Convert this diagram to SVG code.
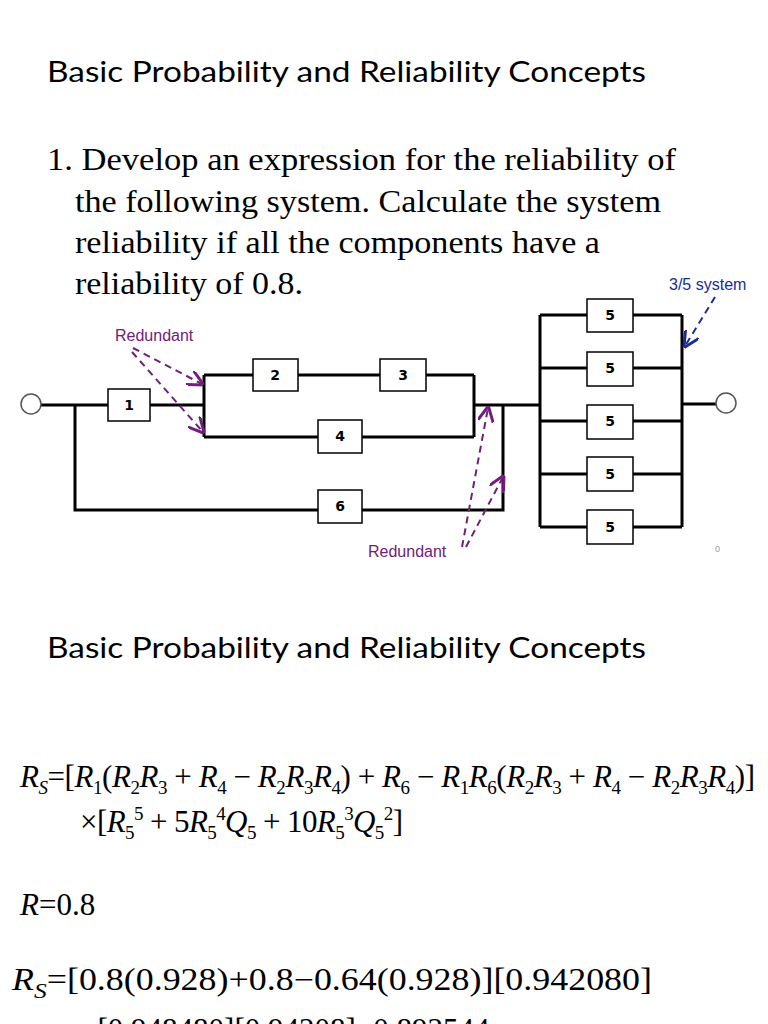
<svg xmlns="http://www.w3.org/2000/svg" width="768" height="1024" viewBox="0 0 768 1024">
<style>
.t{font-family:Lato,"Open Sans",sans-serif;font-size:29px;fill:#000}
.q{font-family:"Liberation Serif",serif;font-size:32px;fill:#000}
.e{font-family:"Liberation Serif",serif;font-size:31px;fill:#000}
.w{stroke:#000;stroke-width:3;fill:none}
.b{fill:#fff;stroke:#000;stroke-width:1.5}
.n{font-family:"DejaVu Sans",sans-serif;font-weight:bold;font-size:14px;text-anchor:middle}
.lbl{font-family:"Liberation Sans",sans-serif;font-size:16px}
.pd{stroke:#70207a;stroke-width:2;stroke-dasharray:7,5;fill:none;marker-end:url(#ap)}
.bd{stroke:#1a2a9a;stroke-width:2;stroke-dasharray:7,5;fill:none;marker-end:url(#ab)}
.s{font-size:19px}
</style>
<defs>
<marker id="ap" markerWidth="8" markerHeight="8" refX="7" refY="4" orient="auto"><path d="M0,0 L8,4 L0,8" fill="none" stroke="#70207a" stroke-width="1.5"/></marker>
<marker id="ab" markerWidth="8" markerHeight="8" refX="7" refY="4" orient="auto"><path d="M0,0 L8,4 L0,8" fill="none" stroke="#1a2a9a" stroke-width="1.5"/></marker>
</defs>
<rect width="768" height="1024" fill="#fff"/>
<text class="t" x="47" y="82" textLength="599" lengthAdjust="spacingAndGlyphs">Basic Probability and Reliability Concepts</text>
<text class="q" x="47" y="170" textLength="629" lengthAdjust="spacingAndGlyphs">1. Develop  an expression for the reliability of</text>
<text class="q" x="75" y="212" textLength="586" lengthAdjust="spacingAndGlyphs">the following system. Calculate the system</text>
<text class="q" x="75" y="253" textLength="525" lengthAdjust="spacingAndGlyphs">reliability if all the components have a</text>
<text class="q" x="75" y="294" textLength="228" lengthAdjust="spacingAndGlyphs">reliability of 0.8.</text>
<g id="connectors">
<path class="w" d="M41,405 H108 M150,405 H204 M204,375 V437 M204,375 H253 M298,375 H380 M426,375 H474 M204,437 H318 M362,437 H474 M474,375 V437 M474,405 H540"/>
<path class="w" d="M75,405 V510 H318 M362,510 H503 V405"/>
<path class="w" d="M540,315 V527 M682,315 V527 M540,315 H587 M633,315 H682 M540,368 H587 M633,368 H682 M540,421 H587 M633,421 H682 M540,474 H587 M633,474 H682 M540,527 H587 M633,527 H682 M682,404 H716"/>
<path class="pd" d="M133,348 L202,384"/>
<path class="pd" d="M132,352 L203,432"/>
<path class="pd" d="M462,547 L488,408"/>
<path class="pd" d="M466,547 L503,477"/>
<path class="bd" d="M715,297 L685,346"/>
</g>
<g id="in"><circle cx="31" cy="404" r="10" fill="#fff" stroke="#555" stroke-width="1.5"/></g>
<g id="out"><circle cx="726" cy="403" r="10" fill="#fff" stroke="#555" stroke-width="1.5"/></g>
<g id="n1"><rect class="b" x="108" y="389" width="42" height="32"/><text class="n" x="129" y="410">1</text></g>
<g id="n2"><rect class="b" x="253" y="359" width="45" height="32"/><text class="n" x="275" y="380">2</text></g>
<g id="n3"><rect class="b" x="380" y="359" width="46" height="32"/><text class="n" x="403" y="380">3</text></g>
<g id="n4"><rect class="b" x="318" y="420" width="44" height="33"/><text class="n" x="340" y="441">4</text></g>
<g id="n6"><rect class="b" x="318" y="490" width="44" height="33"/><text class="n" x="340" y="511">6</text></g>
<g id="n5a"><rect class="b" x="587" y="299" width="46" height="33"/><text class="n" x="610" y="320">5</text></g>
<g id="n5b"><rect class="b" x="587" y="352" width="46" height="34"/><text class="n" x="610" y="373">5</text></g>
<g id="n5c"><rect class="b" x="587" y="405" width="46" height="34"/><text class="n" x="610" y="426">5</text></g>
<g id="n5d"><rect class="b" x="587" y="457" width="46" height="34"/><text class="n" x="610" y="479">5</text></g>
<g id="n5e"><rect class="b" x="587" y="510" width="46" height="34"/><text class="n" x="610" y="532">5</text></g>
<text class="lbl" x="115" y="341" fill="#70207a">Redundant</text>
<text class="lbl" x="368" y="557" fill="#70207a">Redundant</text>
<text class="lbl" x="669" y="290" fill="#1a2a9a">3/5 system</text>
<text x="715" y="552" font-family="Liberation Sans,sans-serif" font-size="9" fill="#999">0</text>
<text class="t" x="47" y="658" textLength="599" lengthAdjust="spacingAndGlyphs">Basic Probability and Reliability Concepts</text>
<text class="e" x="20" y="787" textLength="735"><tspan font-style="italic">R</tspan><tspan class="s" font-style="italic" dy="7">S</tspan><tspan dy="-7">=[</tspan><tspan font-style="italic">R</tspan><tspan class="s" dy="7">1</tspan><tspan dy="-7">(</tspan><tspan font-style="italic">R</tspan><tspan class="s" dy="7">2</tspan><tspan dy="-7" font-style="italic">R</tspan><tspan class="s" dy="7">3</tspan><tspan dy="-7"> + </tspan><tspan font-style="italic">R</tspan><tspan class="s" dy="7">4</tspan><tspan dy="-7"> − </tspan><tspan font-style="italic">R</tspan><tspan class="s" dy="7">2</tspan><tspan dy="-7" font-style="italic">R</tspan><tspan class="s" dy="7">3</tspan><tspan dy="-7" font-style="italic">R</tspan><tspan class="s" dy="7">4</tspan><tspan dy="-7">) + </tspan><tspan font-style="italic">R</tspan><tspan class="s" dy="7">6</tspan><tspan dy="-7"> − </tspan><tspan font-style="italic">R</tspan><tspan class="s" dy="7">1</tspan><tspan dy="-7" font-style="italic">R</tspan><tspan class="s" dy="7">6</tspan><tspan dy="-7">(</tspan><tspan font-style="italic">R</tspan><tspan class="s" dy="7">2</tspan><tspan dy="-7" font-style="italic">R</tspan><tspan class="s" dy="7">3</tspan><tspan dy="-7"> + </tspan><tspan font-style="italic">R</tspan><tspan class="s" dy="7">4</tspan><tspan dy="-7"> − </tspan><tspan font-style="italic">R</tspan><tspan class="s" dy="7">2</tspan><tspan dy="-7" font-style="italic">R</tspan><tspan class="s" dy="7">3</tspan><tspan dy="-7" font-style="italic">R</tspan><tspan class="s" dy="7">4</tspan><tspan dy="-7">)]</tspan></text>
<text class="e" x="80" y="832" textLength="323">×[<tspan font-style="italic">R</tspan><tspan class="s" dy="7">5</tspan><tspan class="s" dy="-19">5</tspan><tspan dy="12"> + 5</tspan><tspan font-style="italic">R</tspan><tspan class="s" dy="7">5</tspan><tspan class="s" dy="-19">4</tspan><tspan dy="12" font-style="italic">Q</tspan><tspan class="s" dy="7">5</tspan><tspan dy="-7"> + 10</tspan><tspan font-style="italic">R</tspan><tspan class="s" dy="7">5</tspan><tspan class="s" dy="-19">3</tspan><tspan dy="12" font-style="italic">Q</tspan><tspan class="s" dy="7">5</tspan><tspan class="s" dy="-19">2</tspan><tspan dy="12">]</tspan></text>
<text class="e" x="20" y="915"><tspan font-style="italic">R</tspan>=0.8</text>
<text class="e" x="12" y="990" font-size="36" textLength="640" lengthAdjust="spacingAndGlyphs"><tspan font-style="italic">R</tspan><tspan font-size="22" font-style="italic" dy="8">S</tspan><tspan dy="-8">=[0.8(0.928)+0.8−0.64(0.928)][0.942080]</tspan></text>
<text class="e" x="80" y="1040" font-size="36">=[0.948480][0.94208]=0.893544</text>
</svg>
